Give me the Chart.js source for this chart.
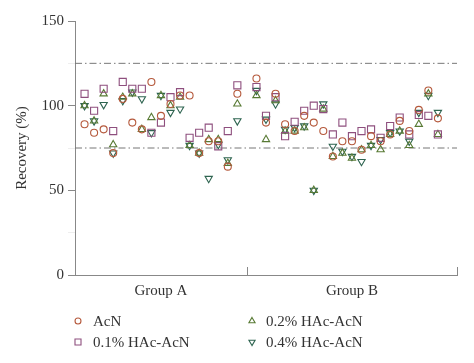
<!DOCTYPE html>
<html>
<head>
<meta charset="utf-8">
<script src="https://cdn.jsdelivr.net/npm/chart.js@4/dist/chart.umd.min.js"></script>
<style>
  html, body { margin: 0; padding: 0; background: #fff; }
  #wrap { width: 474px; height: 363px; position: relative; }
</style>
</head>
<body>
<div id="wrap"><canvas id="recovery"></canvas></div>
<script>
// sample positions along x (group A: 1-17, group B: 19-38)
const samplePos = [1, 2, 3, 4, 5, 6, 7, 8, 9, 10, 11, 12, 13, 14, 15, 16, 17,
  19, 20, 21, 22, 23, 24, 25, 26, 27, 28, 29, 30, 31, 32, 33, 34, 35, 36, 37, 38];

const groupLabels = ['Group A', 'Group B'];
const groupCenters = [9, 29];
const groupEdges = [0, 18, 40];

const acn = [89, 84, 86, 72, 104, 90, 86, 114, 94, 101, 106, 106, 72, 79, 79, 64, 107,
  116, 90, 107, 89, 85, 94, 90, 85, 70, 79, 79, 74, 82, 79, 83, 91, 85, 97.5, 109, 92.5];
const hac01 = [107, 97, 110, 85, 114, 110, 110, 84, 90, 105, 108, 81, 84, 87, 76, 85, 112,
  111, 94, 105, 82, 90.5, 97, 100, 98, 83, 90, 82, 85, 86, 81, 88, 93, 83, 94.5, 94, 83];
const hac02 = [100, 91, 107, 77, 105, 107, 86, 93, 106, 100, 105, 76.5, 72, 80, 80, 66, 101,
  106, 80, 103, 85, 85, 87, 50, 98, 70, 72, 69, 74, 76.5, 74, 83, 85, 76.5, 89, 107, 83];
const hac04 = [100, 91, 100.6, 72, 103, 108, 104, 84, 106, 96, 98, 76.5, 72, 57, 77, 68, 91,
  109, 92, 101, 86, 87, 88, 50, 101, 76, 73, 70, 67, 76.5, 80, 84, 85, 79, 96, 106, 96];

const limits = [75, 125];
const yTicks = [0, 50, 100, 150];

const serif = '"Liberation Serif", "Times New Roman", serif';

const series = [
  { label: 'AcN', data: acn, color: '#b5593c', style: 'circle', rot: 0, r: 3.5 },
  { label: '0.1% HAc-AcN', data: hac01, color: '#8e4f7e', style: 'rect', rot: 0, r: 5 },
  { label: '0.2% HAc-AcN', data: hac02, color: '#587a34', style: 'triangle', rot: 0, r: 4.2 },
  { label: '0.4% HAc-AcN', data: hac04, color: '#2e6450', style: 'triangle', rot: 180, r: 4.2 }
];

const toPoints = vals => vals.map((v, i) => ({ x: samplePos[i], y: v }));

const datasets = series.map(s => ({
  type: 'scatter',
  label: s.label,
  data: toPoints(s.data),
  pointStyle: s.style,
  pointRotation: s.rot,
  pointRadius: s.r,
  pointBorderWidth: 1.1,
  borderColor: s.color,
  backgroundColor: 'rgba(255,255,255,0)'
}));

limits.forEach(v => {
  datasets.push({
    type: 'line',
    label: 'limit',
    data: [{ x: groupEdges[0], y: v }, { x: groupEdges[2], y: v }],
    borderColor: '#777',
    borderWidth: 1,
    borderDash: [7, 3, 1.5, 3],
    pointRadius: 0,
    fill: false
  });
});

// group divider ticks (drawn upward from the x axis) and the two-column legend
const extras = {
  id: 'extras',
  afterDraw(chart) {
    const ctx = chart.ctx;
    const xs = chart.scales.x;
    const bottom = chart.chartArea.bottom;
    ctx.save();
    ctx.strokeStyle = '#888';
    ctx.lineWidth = 1;
    groupEdges.slice(1).forEach(v => {
      const px = Math.round(xs.getPixelForValue(v)) + 0.5;
      ctx.beginPath();
      ctx.moveTo(px, bottom);
      ctx.lineTo(px, bottom - 8);
      ctx.stroke();
    });

    const colX = [78, 252];
    const textX = [93, 266];
    const rowY = [321, 342];
    ctx.font = '15px ' + serif;
    ctx.textBaseline = 'middle';
    series.forEach((s, k) => {
      const col = Math.floor(k / 2), row = k % 2;
      ctx.strokeStyle = s.color;
      ctx.fillStyle = 'rgba(255,255,255,0)';
      ctx.lineWidth = 1.1;
      Chart.helpers.drawPoint(ctx, {
        pointStyle: s.style, rotation: s.rot, radius: s.r * 0.85, borderWidth: 1.1
      }, colX[col], rowY[row]);
      ctx.fillStyle = '#333';
      ctx.fillText(s.label, textX[col], rowY[row] + 1);
    });
    ctx.restore();
  }
};

new Chart(document.getElementById('recovery'), {
  type: 'scatter',
  data: { datasets },
  options: {
    responsive: true,
    maintainAspectRatio: false,
    animation: false,
    layout: { padding: { top: 21, right: 17, bottom: 0, left: 0 } },
    plugins: { legend: { display: false }, tooltip: { enabled: false } },
    scales: {
      x: {
        type: 'linear',
        min: groupEdges[0],
        max: groupEdges[2],
        afterBuildTicks: s => { s.ticks = groupCenters.map(v => ({ value: v })); },
        afterFit: s => { s.height = 88; },
        ticks: {
          autoSkip: false,
          maxRotation: 0,
          padding: 7,
          color: '#333',
          font: { family: serif, size: 15 },
          callback: (v) => groupLabels[groupCenters.indexOf(v)]
        },
        grid: { display: true, drawOnChartArea: false, drawTicks: false },
        border: { color: '#888', width: 1 }
      },
      y: {
        min: 0,
        max: 150,
        afterBuildTicks: s => { s.ticks = [0, 25, 50, 75, 100, 125, 150].map(v => ({ value: v })); },
        afterFit: s => { s.width = 75; },
        ticks: {
          padding: 4,
          color: '#333',
          font: { family: serif, size: 15 },
          callback: v => (yTicks.includes(v) ? String(v) : '')
        },
        grid: {
          drawOnChartArea: false,
          tickLength: 7,
          tickColor: c => (yTicks.includes(c.tick.value) ? '#888' : '#eee')
        },
        border: { color: '#888', width: 1 },
        title: {
          display: true,
          text: 'Recovery (%)',
          color: '#333',
          font: { family: serif, size: 15 },
          padding: { top: 13, bottom: 0 }
        }
      }
    }
  },
  plugins: [extras]
});
</script>
</body>
</html>
